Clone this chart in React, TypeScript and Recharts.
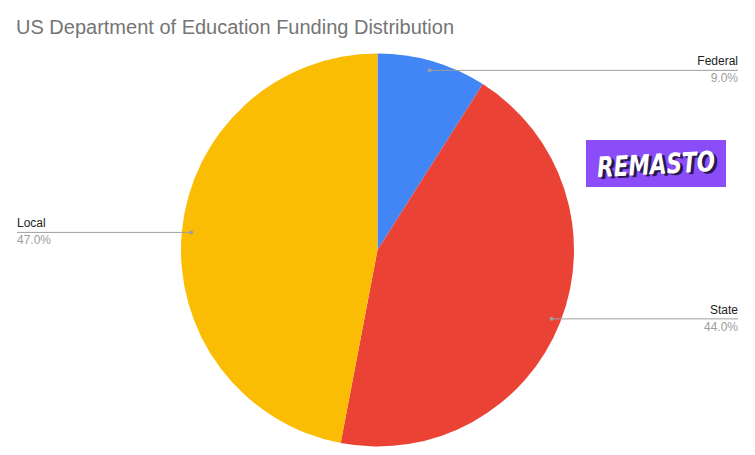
import React from 'react';
import { PieChart, Pie, Cell } from 'recharts';

const categories = ['Federal', 'State', 'Local'];
const shares = [9.0, 44.0, 47.0];
const colors = ['#4285F4', '#EA4335', '#FBBC04'];

const data = categories.map((name, i) => ({ name, value: shares[i] }));

const RAD = Math.PI / 180;

const renderLabel = (props: any) => {
  const { cx, cy, midAngle, outerRadius, index } = props;
  const r = outerRadius * 0.952;
  const x = cx + r * Math.cos(-midAngle * RAD);
  const y = cy + r * Math.sin(-midAngle * RAD);
  const right = x > cx;
  const endX = right ? 738 : 17;
  const anchor = right ? 'end' : 'start';
  return (
    <g>
      <line x1={x} y1={y} x2={endX} y2={y} stroke="#9e9e9e" strokeWidth={1} />
      <circle cx={x} cy={y} r={2} fill="#9e9e9e" />
      <text x={endX} y={y - 5} textAnchor={anchor} fontSize={12} fill="#222" fontFamily="Arial, 'Liberation Sans', sans-serif">
        {categories[index]}
      </text>
      <text x={endX} y={y + 12} textAnchor={anchor} fontSize={12} fill="#9e9e9e" fontFamily="Arial, 'Liberation Sans', sans-serif">
        {shares[index].toFixed(1)}%
      </text>
    </g>
  );
};

export default function App() {
  return (
    <div style={{ position: 'absolute', left: 0, top: 0, width: 755, height: 455, background: '#fff' }}>
      <div
        style={{
          position: 'absolute',
          left: 16,
          top: 16,
          fontFamily: 'Arial, "Liberation Sans", sans-serif',
          fontSize: 20,
          color: '#757575',
          whiteSpace: 'nowrap',
        }}
      >
        US Department of Education Funding Distribution
      </div>
      <PieChart width={755} height={455} margin={{ top: 0, right: 0, bottom: 0, left: 0 }}>
        <Pie
          data={data}
          dataKey="value"
          nameKey="name"
          cx={377.5}
          cy={250}
          outerRadius={196.5}
          startAngle={90}
          endAngle={-270}
          stroke="none"
          label={renderLabel}
          labelLine={false}
          isAnimationActive={false}
        >
          {data.map((d, i) => (
            <Cell key={d.name} fill={colors[i]} />
          ))}
        </Pie>
      </PieChart>
      <div
        style={{
          position: 'absolute',
          left: 586,
          top: 140,
          width: 140,
          height: 47,
          background: '#8B4DF7',
        }}
      />
      <svg
        width={755}
        height={455}
        style={{ position: 'absolute', left: 0, top: 0, pointerEvents: 'none' }}
      >
        <g transform="rotate(-3 656 164)">
          <text
            x={659}
            y={176}
            textAnchor="middle"
            textLength={118}
            lengthAdjust="spacingAndGlyphs"
            fontFamily="'DejaVu Sans', Arial, sans-serif"
            fontWeight="bold"
            fontStyle="italic"
            fontSize={28}
            fill="#2a1a4a"
          >
            REMASTO
          </text>
          <text
            x={656}
            y={174}
            textAnchor="middle"
            textLength={118}
            lengthAdjust="spacingAndGlyphs"
            fontFamily="'DejaVu Sans', Arial, sans-serif"
            fontWeight="bold"
            fontStyle="italic"
            fontSize={28}
            fill="#fff"
          >
            REMASTO
          </text>
        </g>
      </svg>
    </div>
  );
}
